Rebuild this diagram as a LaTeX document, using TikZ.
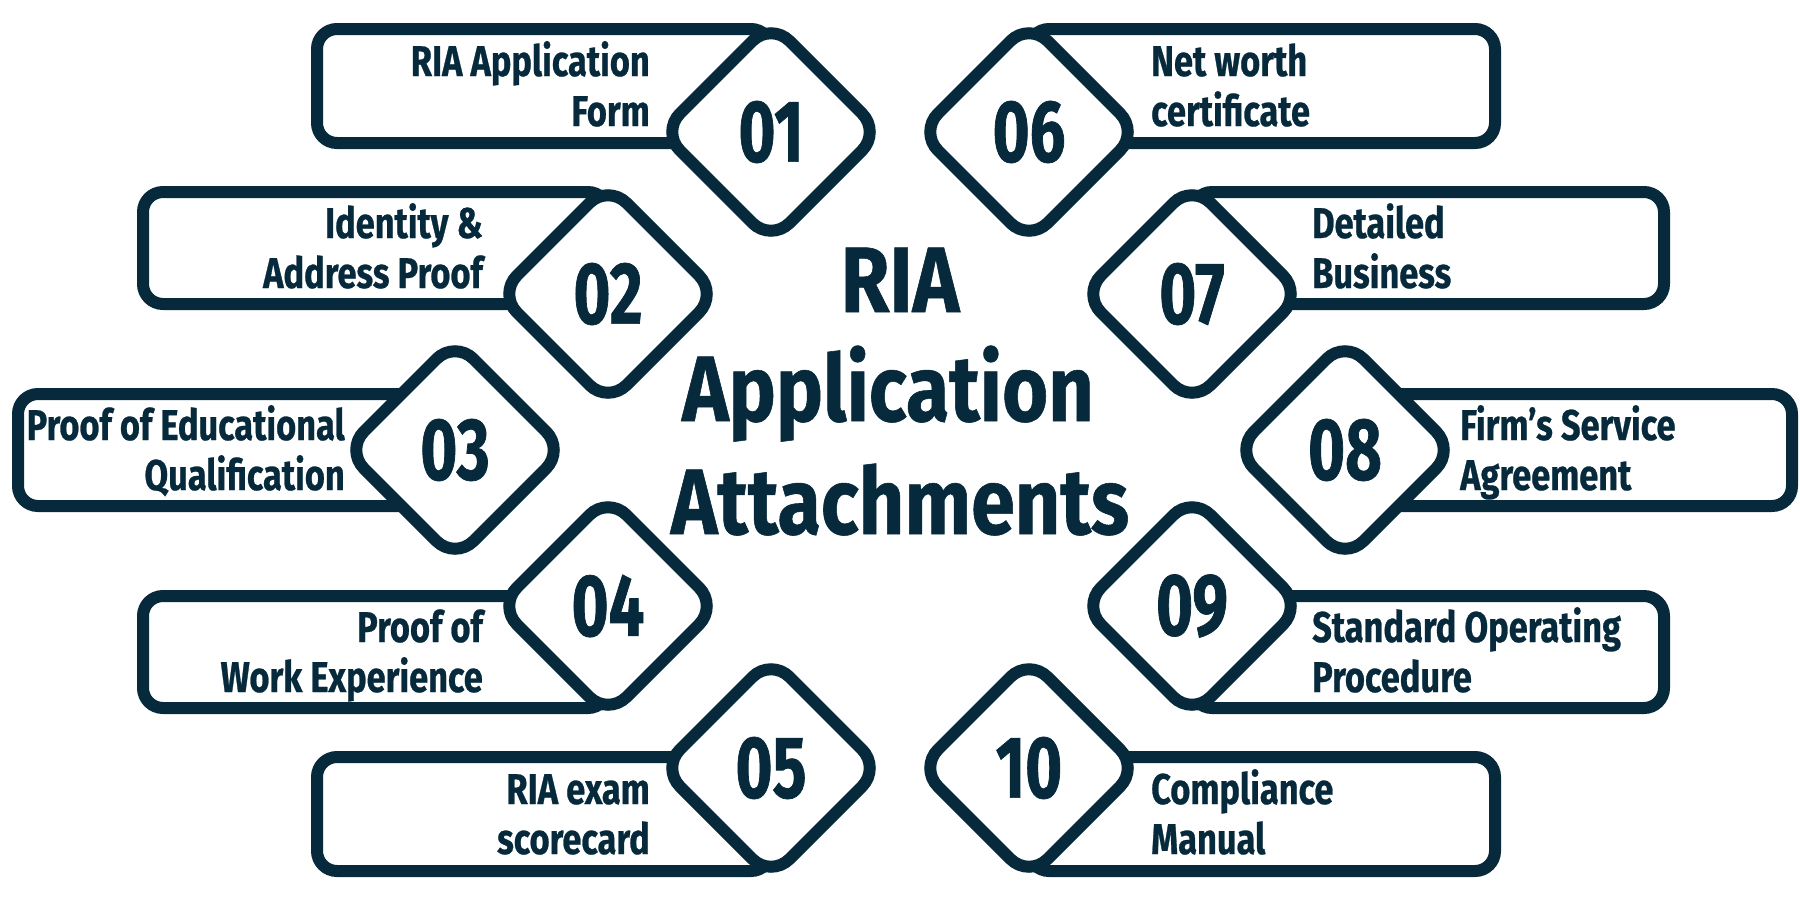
\documentclass[tikz,border=0pt]{standalone}
\usepackage{fontspec}
\setmainfont{Fira Sans}
\newfontfamily\lblfont{Fira Sans}[FakeStretch=0.8,FakeBold=0.6]
\newfontfamily\numfont{Fira Sans}[FakeStretch=0.72,FakeBold=0.8]
\newfontfamily\ttlfont{Fira Sans}[FakeStretch=0.85,FakeBold=0.6]
\usetikzlibrary{shapes.geometric}
\definecolor{navy}{HTML}{06293B}
\begin{document}
\begin{tikzpicture}[x=1pt,y=-1pt,
  panel/.style={draw=navy, line width=12pt, rounded corners=20pt, fill=white},
  dia/.style={shape=diamond, draw=navy, line width=12pt, fill=white,
    minimum width=224pt, minimum height=224pt, inner sep=0pt, rounded corners=26pt,
    text=navy, font=\numfont\bfseries\fontsize{88}{88}\selectfont},
  lbl/.style={inner sep=0pt, text=navy, font=\lblfont\bfseries\fontsize{43}{43}\selectfont},
  lblL/.style={lbl, anchor=base east},
  lblR/.style={lbl, anchor=base west},
  ttl/.style={inner sep=0pt, anchor=base, text=navy, font=\ttlfont\bfseries\fontsize{93}{93}\selectfont}]
\useasboundingbox (0,0) rectangle (1800,900);
% left column
\draw[panel] (317,29) rectangle (771,143);
\node[dia] (d1) at (771,132) {01};
\draw[panel] (143,192) rectangle (608,304);
\node[dia] (d2) at (608,294) {02};
\draw[panel] (18,394) rectangle (455,506);
\node[dia] (d3) at (455,450) {03};
\draw[panel] (143,596) rectangle (608,708);
\node[dia] (d4) at (608,606) {04};
\draw[panel] (317,757) rectangle (771,871);
\node[dia] (d5) at (771,768) {05};
% right column
\draw[panel] (1029,29) rectangle (1495,143);
\node[dia] (d6) at (1029,132) {06};
\draw[panel] (1192,192) rectangle (1664,304);
\node[dia] (d7) at (1192,294) {07};
\draw[panel] (1345,394) rectangle (1792,506);
\node[dia] (d8) at (1345,450) {08};
\draw[panel] (1192,596) rectangle (1664,708);
\node[dia] (d9) at (1192,606) {09};
\draw[panel] (1029,757) rectangle (1495,871);
\node[dia] (d10) at (1029,768) {10};
% labels left
\node[lblL] (t1a) at (650,76) {RIA Application};
\node[lblL] (t1b) at (650,126) {Form};
\node[lblL] (t2a) at (483,238) {Identity \&};
\node[lblL] (t2b) at (483,288) {Address Proof};
\node[lblL] (t3a) at (345,440) {Proof of Educational};
\node[lblL] (t3b) at (345,490) {Qualification};
\node[lblL] (t4a) at (483,642) {Proof of};
\node[lblL] (t4b) at (483,692) {Work Experience};
\node[lblL] (t5a) at (650,804) {RIA exam};
\node[lblL] (t5b) at (650,854) {scorecard};
% labels right
\node[lblR] (t6a) at (1151,76) {Net worth};
\node[lblR] (t6b) at (1151,126) {certificate};
\node[lblR] (t7a) at (1312,238) {Detailed};
\node[lblR] (t7b) at (1312,288) {Business};
\node[lblR] (t8a) at (1460,440) {Firm’s Service};
\node[lblR] (t8b) at (1460,490) {Agreement};
\node[lblR] (t9a) at (1312,642) {Standard Operating};
\node[lblR] (t9b) at (1312,692) {Procedure};
\node[lblR] (t10a) at (1151,804) {Compliance};
\node[lblR] (t10b) at (1151,854) {Manual};
% title
\node[ttl] (h1) at (900,312) {RIA};
\node[ttl] (h2) at (888,421) {Application};
\node[ttl] (h3) at (900,534) {Attachments};
\end{tikzpicture}
\end{document}
